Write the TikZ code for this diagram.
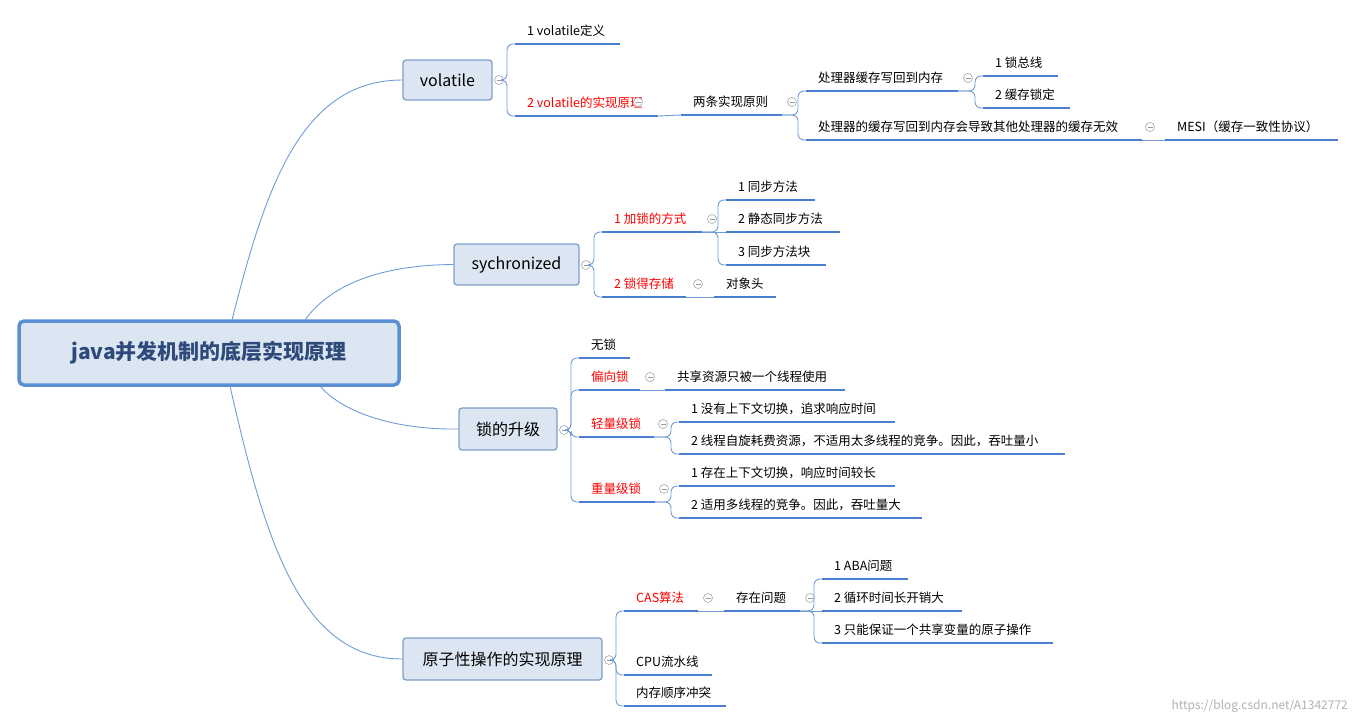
\documentclass[tikz,border=0pt]{standalone}
\usepackage{fontspec}
\setmainfont{Noto Sans CJK SC}
\usetikzlibrary{calc}
\definecolor{ul}{HTML}{4A7FD0}
\definecolor{cn}{HTML}{6F9BD8}
\definecolor{bfill}{HTML}{DCE6F2}
\definecolor{bdraw}{HTML}{7F9FC8}
\definecolor{rootc}{HTML}{5B8FD4}
\definecolor{roottxt}{HTML}{2E4A7A}
\definecolor{redt}{HTML}{FF0000}
\tikzset{
 leaftext/.style={inner sep=0pt,font=\fontsize{12.5}{14}\selectfont},
 uline/.style={ul,line width=2.5pt},
 conn/.style={cn,line width=0.9pt,rounded corners=6pt},
 branch/.style={draw=bdraw,fill=bfill,line width=1.3pt,rounded corners=3pt,font=\fontsize{16}{18}\selectfont,inner sep=0pt},
 mk/.style={circle,draw=gray!70,line width=0.6pt,minimum size=9pt,inner sep=0pt,fill=white}
}
\newcommand\leaf[6]{%
 \node[leaftext,text=#6,anchor=west] (#1) at (#2,#3) {#5};
 \coordinate (#1-s) at ({#2-12},{#3+13});
 \coordinate (#1-e) at (#4,{#3+13});
 \draw[uline] (#1-s) -- (#1-e);}
\newcommand\mkr[3]{\node[mk] (#1) at (#2,#3) {}; \draw[gray!80,line width=0.6pt] ([xshift=-2.5pt]#1.center) -- ([xshift=2.5pt]#1.center);}
\newcommand\jn[2]{\draw[conn] (#1) -| ([xshift=-8pt]#2-s) -- (#2-s);}
\begin{document}
\begin{tikzpicture}[x=1pt,y=-1pt]
\useasboundingbox (0,0) rectangle (1356,724);
% root
\node[draw=rootc,fill=bfill,line width=3.5pt,rounded corners=5pt,minimum width=380pt,minimum height=64pt,font=\fontsize{21}{24}\selectfont\bfseries,text=roottxt] (root) at (209,353) {java并发机制的底层实现原理};
% branches
\node[branch,minimum width=89pt,minimum height=40pt] (vol) at (447.5,80) {volatile};
\node[branch,minimum width=125pt,minimum height=41pt] (syn) at (516.5,264.5) {sychronized};
\node[branch,minimum width=98pt,minimum height=42pt] (lock) at (508,429) {锁的升级};
\node[branch,minimum width=199pt,minimum height=42pt] (atom) at (502.5,659) {原子性操作的实现原理};
\draw[cn,line width=0.9pt] (232,320) .. controls (265,190) and (300,80) .. (vol.west);
\draw[cn,line width=0.9pt] (305,320) .. controls (330,285) and (380,265) .. (syn.west);
\draw[cn,line width=0.9pt] (320,386) .. controls (340,410) and (390,430) .. (lock.west);
\draw[cn,line width=0.9pt] (230,386) .. controls (265,540) and (300,659) .. (atom.west);
\mkr{mv}{499}{80}\mkr{ms}{586}{265}\mkr{ml}{564}{430}\mkr{ma}{609}{660}
% volatile
\leaf{v1}{527}{31}{620}{1 volatile定义}{black}
\leaf{v2}{527}{103}{658}{2 volatile的实现原理}{redt}
\jn{mv.east}{v1}\jn{mv.east}{v2}
\mkr{mv2}{638}{102}
\leaf{v3}{693}{102}{782}{两条实现原则}{black}
\draw[conn] (v2-e) -- (v3-s);
\mkr{mv3}{792}{102}
\leaf{v4}{818}{78}{958}{处理器缓存写回到内存}{black}
\leaf{v5}{818}{127}{1142}{处理器的缓存写回到内存会导致其他处理器的缓存无效}{black}
\jn{v3-e}{v4}\jn{v3-e}{v5}
\mkr{mv4}{968}{78}
\leaf{v6}{995}{63}{1058}{1 锁总线}{black}
\leaf{v7}{995}{95}{1070}{2 缓存锁定}{black}
\jn{v4-e}{v6}\jn{v4-e}{v7}
\mkr{mv5}{1150}{127}
\leaf{v8}{1177}{127}{1338}{MESI（缓存一致性协议）}{black}
\draw[conn] (v5-e) -- (v8-s);
% synchronized
\leaf{s1}{614}{219}{702}{1 加锁的方式}{redt}
\leaf{s2}{614}{284}{686}{2 锁得存储}{redt}
\jn{ms.east}{s1}\jn{ms.east}{s2}
\mkr{ms1}{712}{219}
\leaf{s3}{738}{187}{815}{1 同步方法}{black}
\leaf{s4}{738}{219}{840}{2 静态同步方法}{black}
\leaf{s5}{738}{252}{826}{3 同步方法块}{black}
\jn{s1-e}{s3}\draw[conn] (s1-e) -- (s4-s);\jn{s1-e}{s5}
\mkr{ms2}{698}{284}
\leaf{s6}{726}{284}{776}{对象头}{black}
\draw[conn] (s2-e) -- (s6-s);
% lock
\leaf{l1}{591}{345}{630}{无锁}{black}
\leaf{l2}{591}{377}{640}{偏向锁}{redt}
\leaf{l3}{591}{424}{654}{轻量级锁}{redt}
\leaf{l4}{591}{489}{655}{重量级锁}{redt}
\jn{ml.east}{l1}\jn{ml.east}{l2}\jn{ml.east}{l3}\jn{ml.east}{l4}
\mkr{ml2}{650}{377}
\leaf{l5}{677}{377}{845}{共享资源只被一个线程使用}{black}
\draw[conn] (l2-e) -- (l5-s);
\mkr{ml3}{663}{424}
\leaf{l6}{691}{409}{895}{1 没有上下文切换，追求响应时间}{black}
\leaf{l7}{691}{441}{1065}{2 线程自旋耗费资源，不适用太多线程的竞争。因此，吞吐量小}{black}
\jn{l3-e}{l6}\jn{l3-e}{l7}
\mkr{ml4}{664}{489}
\leaf{l8}{691}{473}{895}{1 存在上下文切换，响应时间较长}{black}
\leaf{l9}{691}{505}{922}{2 适用多线程的竞争。因此，吞吐量大}{black}
\jn{l4-e}{l8}\jn{l4-e}{l9}
% atomic
\leaf{a1}{636}{598}{698}{CAS算法}{redt}
\leaf{a2}{636}{662}{712}{CPU流水线}{black}
\leaf{a3}{636}{693}{726}{内存顺序冲突}{black}
\jn{ma.east}{a1}\jn{ma.east}{a2}\jn{ma.east}{a3}
\mkr{ma1}{708}{598}
\leaf{a4}{736}{598}{800}{存在问题}{black}
\draw[conn] (a1-e) -- (a4-s);
\mkr{ma2}{810}{598}
\leaf{a5}{834}{566}{908}{1 ABA问题}{black}
\leaf{a6}{834}{598}{962}{2 循环时间长开销大}{black}
\leaf{a7}{834}{630}{1053}{3 只能保证一个共享变量的原子操作}{black}
\jn{a4-e}{a5}\draw[conn] (a4-e) -- (a6-s);\jn{a4-e}{a7}
\node[anchor=east,text=gray!60,font=\fontsize{12}{14}\selectfont,inner sep=0pt] (wm) at (1348,706) {https://blog.csdn.net/A1342772};
\end{tikzpicture}
\end{document}
